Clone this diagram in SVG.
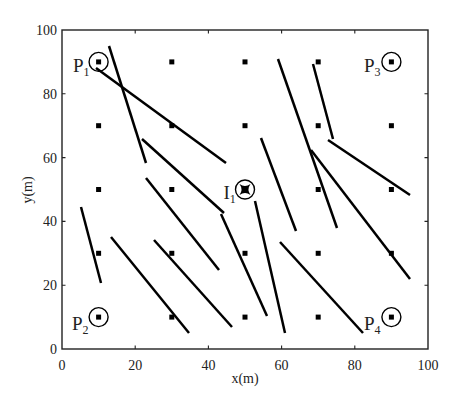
<svg xmlns="http://www.w3.org/2000/svg" xmlns:xlink="http://www.w3.org/1999/xlink" width="474" height="395" viewBox="0 0 474 395">
<style>
.ax{fill:none;stroke:#222;stroke-width:1.4}
.tk{stroke:#222;stroke-width:1.1}
.tl{font-family:"Liberation Serif",serif;font-size:14px;fill:#222}
.lab{font-family:"Liberation Serif",serif;font-size:19px;fill:#222}
.sub{font-size:12px}
.seg{stroke:#000;stroke-width:2.5;stroke-linecap:butt}
.ring{fill:none;stroke:#000;stroke-width:1.4}
</style>
<defs>
<rect id="sq" x="-2.5" y="-2.5" width="5" height="5" fill="#000"/>
</defs>
<rect width="474" height="395" fill="#fff"/>
<g id="axes">
<rect class="ax" x="62" y="30" width="366" height="319"/>
<g class="tk">
<path d="M135.2 349v-3.5M208.4 349v-3.5M281.6 349v-3.5M354.8 349v-3.5M135.2 30v3.5M208.4 30v3.5M281.6 30v3.5M354.8 30v3.5"/>
<path d="M62 285.2h3.5M62 221.4h3.5M62 157.6h3.5M62 93.8h3.5M428 285.2h-3.5M428 221.4h-3.5M428 157.6h-3.5M428 93.8h-3.5"/>
</g>
<g class="tl" text-anchor="middle">
<text x="62" y="370">0</text>
<text x="135.2" y="370">20</text>
<text x="208.4" y="370">40</text>
<text x="281.6" y="370">60</text>
<text x="354.8" y="370">80</text>
<text x="428" y="370">100</text>
</g>
<g class="tl" text-anchor="end">
<text x="57" y="354">0</text>
<text x="57" y="290.2">20</text>
<text x="57" y="226.4">40</text>
<text x="57" y="162.6">60</text>
<text x="57" y="98.8">80</text>
<text x="57" y="35">100</text>
</g>
<text class="tl" x="245" y="383" text-anchor="middle" font-size="15">x(m)</text>
<text class="tl" x="0" y="0" text-anchor="middle" font-size="15" transform="translate(32 190) rotate(-90)">y(m)</text>
</g>
<g id="connectors">
<line class="seg" x1="109" y1="46" x2="146" y2="163"/>
<line class="seg" x1="96" y1="68" x2="226" y2="163"/>
<line class="seg" x1="142" y1="139" x2="224" y2="213"/>
<line class="seg" x1="146" y1="178" x2="219" y2="270"/>
<line class="seg" x1="81" y1="207" x2="101" y2="283"/>
<line class="seg" x1="111" y1="237" x2="189" y2="333"/>
<line class="seg" x1="154" y1="240" x2="232" y2="327"/>
<line class="seg" x1="221" y1="214" x2="267" y2="316"/>
<line class="seg" x1="255" y1="201" x2="285" y2="333"/>
<line class="seg" x1="261" y1="138" x2="296" y2="231"/>
<line class="seg" x1="278" y1="59" x2="337" y2="228"/>
<line class="seg" x1="313" y1="64" x2="333" y2="139"/>
<line class="seg" x1="328" y1="140" x2="410" y2="195"/>
<line class="seg" x1="311" y1="150" x2="410" y2="279"/>
<line class="seg" x1="280" y1="242" x2="363" y2="333"/>
</g>
<g id="grid">
<use xlink:href="#sq" x="171.8" y="61.9"/><use xlink:href="#sq" x="245" y="61.9"/><use xlink:href="#sq" x="318.2" y="61.9"/>
<use xlink:href="#sq" x="98.6" y="125.7"/><use xlink:href="#sq" x="171.8" y="125.7"/><use xlink:href="#sq" x="245" y="125.7"/><use xlink:href="#sq" x="318.2" y="125.7"/><use xlink:href="#sq" x="391.4" y="125.7"/>
<use xlink:href="#sq" x="98.6" y="189.5"/><use xlink:href="#sq" x="171.8" y="189.5"/><use xlink:href="#sq" x="318.2" y="189.5"/><use xlink:href="#sq" x="391.4" y="189.5"/>
<use xlink:href="#sq" x="98.6" y="253.3"/><use xlink:href="#sq" x="171.8" y="253.3"/><use xlink:href="#sq" x="245" y="253.3"/><use xlink:href="#sq" x="318.2" y="253.3"/><use xlink:href="#sq" x="391.4" y="253.3"/>
<use xlink:href="#sq" x="171.8" y="317.1"/><use xlink:href="#sq" x="245" y="317.1"/><use xlink:href="#sq" x="318.2" y="317.1"/>
</g>
<g id="P1">
<use xlink:href="#sq" x="98.6" y="61.9"/>
<circle class="ring" cx="98.6" cy="61.9" r="9.5"/>
<text class="lab" x="73" y="72">P<tspan class="sub" dy="4">1</tspan></text>
</g>
<g id="P2">
<use xlink:href="#sq" x="98.6" y="317.1"/>
<circle class="ring" cx="98.6" cy="317.1" r="9.5"/>
<text class="lab" x="72" y="329.5">P<tspan class="sub" dy="4">2</tspan></text>
</g>
<g id="P3">
<use xlink:href="#sq" x="391.4" y="61.9"/>
<circle class="ring" cx="391.4" cy="61.9" r="9.5"/>
<text class="lab" x="364" y="72">P<tspan class="sub" dy="4">3</tspan></text>
</g>
<g id="P4">
<use xlink:href="#sq" x="391.4" y="317.1"/>
<circle class="ring" cx="391.4" cy="317.1" r="9.5"/>
<text class="lab" x="364" y="329.5">P<tspan class="sub" dy="4">4</tspan></text>
</g>
<g id="I1">
<circle class="ring" cx="245" cy="189.5" r="9.5"/>
<path d="M239.5 184 Q245 188 250.5 184 Q246.5 189.5 250.5 195 Q245 191 239.5 195 Q243.5 189.5 239.5 184Z" fill="#000"/>
<text class="lab" x="223.5" y="198.5">I<tspan class="sub" dy="4">1</tspan></text>
</g>
</svg>
